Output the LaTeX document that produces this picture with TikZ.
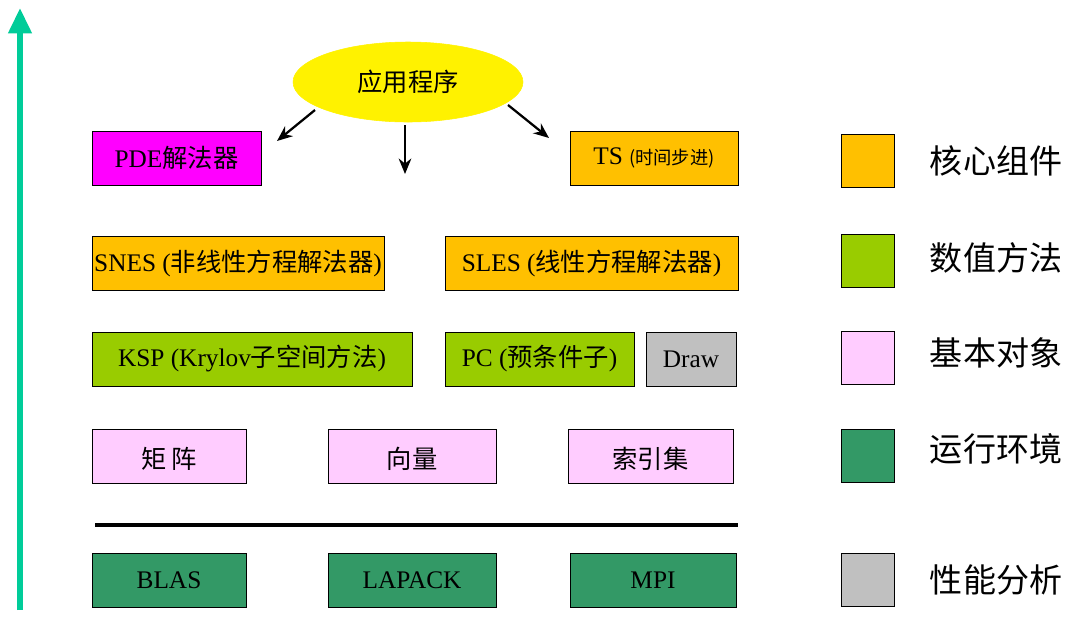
\documentclass[tikz,border=0pt]{standalone}
\usepackage{fontspec}
\setmainfont{Liberation Serif}
\newfontfamily\cjk{Noto Sans CJK SC}
\usetikzlibrary{arrows.meta}
\definecolor{cor}{HTML}{FFC000}
\definecolor{cgr}{HTML}{99CC00}
\definecolor{cpk}{HTML}{FFCCFF}
\definecolor{cdg}{HTML}{339966}
\definecolor{cgy}{HTML}{C0C0C0}
\definecolor{cmg}{HTML}{FF00FF}
\definecolor{cteal}{HTML}{00CC99}
\begin{document}
\begin{tikzpicture}[x=0.025cm,y=-0.025cm,
 bx/.style={draw=black,line width=0.6pt,inner sep=0pt},
 tx/.style={font=\fontsize{18}{21}\selectfont},
 cx/.style={font=\cjk\fontsize{18}{21}\selectfont},
 lg/.style={draw=black,line width=0.6pt,minimum width=1.325cm,minimum height=1.325cm,inner sep=0pt},
 lt/.style={anchor=west,font=\cjk\fontsize{23.5}{26}\selectfont},
 arr/.style={-{Stealth[length=11pt,width=9pt]},line width=1.6pt}]
\useasboundingbox (0,0) rectangle (1080,621);
\newcommand{\bb}[6]{\node[bx,fill=#5,minimum width={(#2-#1)*0.025cm},minimum height={(#4-#3)*0.025cm}] (#6) at ({(#1+#2)/2},{(#3+#4)/2}) {};}
\bb{92}{261}{131}{185}{cmg}{pde}
\node at (pde) [tx] {PDE{\cjk 解法器}};
\bb{570}{738}{131}{185}{cor}{ts}
\node at (ts) [tx] {TS {\cjk\fontsize{13}{15}\selectfont (时间步进)}};
\bb{92}{384}{236}{290}{cor}{snes}
\node at (snes) [tx] {SNES ({\cjk 非线性方程解法器})};
\bb{445}{738}{236}{290}{cor}{sles}
\node at (sles) [tx] {SLES ({\cjk 线性方程解法器})};
\bb{92}{412}{332}{386}{cgr}{ksp}
\node at (ksp) [tx] {KSP (Krylov{\cjk 子空间方法})};
\bb{445}{634}{332}{386}{cgr}{pc}
\node at (pc) [tx] {PC ({\cjk 预条件子})};
\bb{646}{736}{332}{386}{cgy}{draw}
\node at (draw) [tx] {Draw};
\bb{92}{246}{429}{483}{cpk}{mat}
\node at ([yshift=-2pt]mat) [cx] {矩\,阵};
\bb{328}{496}{429}{483}{cpk}{vec}
\node at ([yshift=-2pt]vec) [cx] {向量};
\bb{568}{733}{429}{483}{cpk}{is}
\node at ([yshift=-2pt]is) [cx] {索引集};
\coordinate (l1) at (95,525); \coordinate (l2) at (738,525);
\draw[line width=2.5pt] (l1) -- (l2);
\bb{92}{246}{553}{607}{cdg}{blas}
\node at (blas) [tx] {BLAS};
\bb{328}{496}{553}{607}{cdg}{lapack}
\node at (lapack) [tx] {LAPACK};
\bb{570}{736}{553}{607}{cdg}{mpi}
\node at (mpi) [tx] {MPI};
\draw[fill=yellow,draw=yellow] (408,82) ellipse [x radius=115, y radius=40];
\node (app) at (408,82) [cx] {应用程序};
\coordinate (a1) at (315,110); \coordinate (b1) at (277,141);
\coordinate (a2) at (405,125); \coordinate (b2) at (405,174);
\coordinate (a3) at (508,105); \coordinate (b3) at (549,138);
\draw[arr] (a1) -- (b1); \draw[arr] (a2) -- (b2); \draw[arr] (a3) -- (b3);
\coordinate (s1) at (20,610); \coordinate (s2) at (20,8);
\draw[cteal,line width=4pt,-{Triangle[length=18pt,width=16pt]}] (s1) -- (s2);
\node[lg,fill=cor] (g1) at (868,161) {}; \node[lt] at (925,161) {核心组件};
\node[lg,fill=cgr] (g2) at (868,261) {}; \node[lt] at (925,258) {数值方法};
\node[lg,fill=cpk] (g3) at (868,358) {}; \node[lt] at (925,353) {基本对象};
\node[lg,fill=cdg] (g4) at (868,456) {}; \node[lt] at (925,449) {运行环境};
\node[lg,fill=cgy] (g5) at (868,580) {}; \node[lt] at (925,580) {性能分析};
\end{tikzpicture}
\end{document}
